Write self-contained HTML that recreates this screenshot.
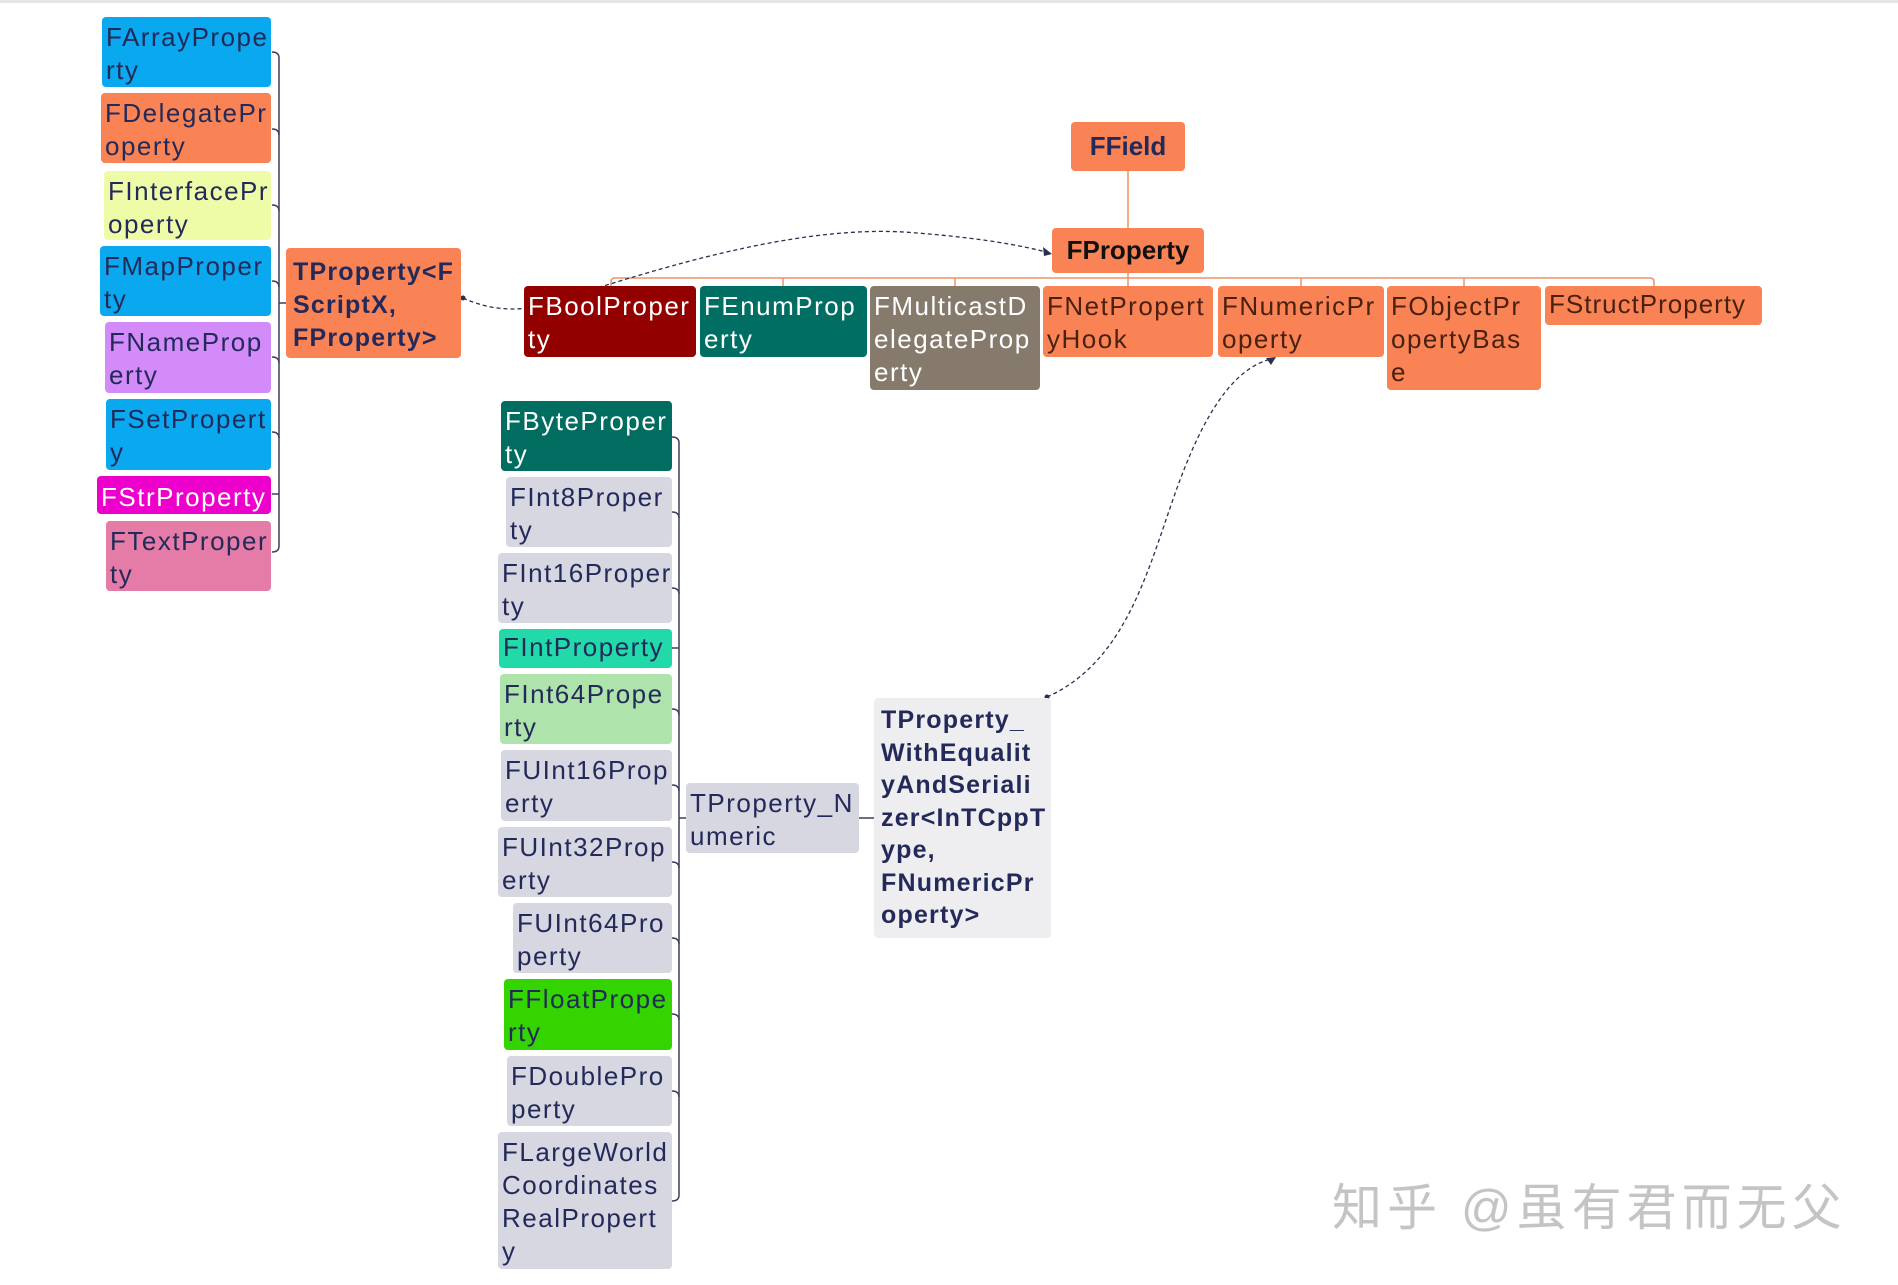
<!DOCTYPE html>
<html><head><meta charset="utf-8"><style>
*{margin:0;padding:0;box-sizing:border-box}
body{width:1898px;height:1285px;background:#fff;position:relative;overflow:hidden;font-family:"Liberation Sans",sans-serif}
.b{position:absolute;border-radius:4px;font-size:26px;letter-spacing:1.5px;color:#232a5a;padding:4px 0 0 4px;white-space:nowrap;line-height:33px}
.w{color:#fff}
.bd{font-weight:bold;letter-spacing:1.2px}
.g{background:#d6d7e1}
.o{background:#f98354}
.bl{background:#0aa8ef}
svg{position:absolute;left:0;top:0}
</style></head><body>
<div style="position:absolute;left:0;top:0;width:1898px;height:3px;background:#e6e6ea"></div>
<svg width="1898" height="1285">
<g fill="none" stroke="#3a3f5c" stroke-width="1.5">
<path d="M272 52 Q279 52 279 58 L279 546 Q279 552 272 552"/>
<path d="M272 129 Q279 129 279 135 M272 205 Q279 205 279 211 M272 281 Q279 281 279 287 M272 357 Q279 357 279 363 M272 432 Q279 432 279 438 M272 494 L279 494"/>
<path d="M279 303 L286 303"/>
<path d="M672 437 Q679 437 679 443 L679 1195 Q679 1201 672 1201"/>
<path d="M672 512 Q679 512 679 518 M672 588 Q679 588 679 594 M672 648 L679 648 M672 709 Q679 709 679 715 M672 785 Q679 785 679 791 M672 862 Q679 862 679 868 M672 938 Q679 938 679 944 M672 1014 Q679 1014 679 1020 M672 1091 Q679 1091 679 1097"/>
<path d="M679 818 L686 818 M859 818 L874 818"/>
</g>
<g fill="none" stroke="#f0906a" stroke-width="1.5">
<path d="M1128 171 L1128 228 M1128 273 L1128 286"/>
<path d="M611 286 L611 282 Q611 278 615 278 L1650 278 Q1654 278 1654 282 L1654 286"/>
<path d="M783 278 L783 286 M955 278 L955 286 M1301 278 L1301 286 M1464 278 L1464 286"/>
</g>
<g fill="none" stroke="#2a3050" stroke-width="1.3" stroke-dasharray="4 3">
<path d="M463 298 C490 310 510 310 530 308 C600 290 780 220 917 233 C980 238 1020 245 1050 253"/>
<path d="M1047 697 C1130 660 1150 560 1180 480 C1210 400 1240 365 1275 358"/>
</g>
<circle cx="463" cy="298" r="2.5" fill="#2a3050"/>
<circle cx="1047" cy="697" r="2.5" fill="#2a3050"/>
<path d="M1052 254 L1043 247 L1044 256 Z" fill="#2a3050"/>
<path d="M1276 357 L1266 358 L1271 365 Z" fill="#2a3050"/>
</svg>

<div class="b bl" style="left:102px;top:17px;width:169px;height:70px">FArrayPrope<br>rty</div>
<div class="b o" style="left:101px;top:93px;width:170px;height:70px">FDelegatePr<br>operty</div>
<div class="b" style="left:104px;top:171px;width:167px;height:69px;background:#eefca8">FInterfacePr<br>operty</div>
<div class="b bl" style="left:100px;top:246px;width:171px;height:70px">FMapProper<br>ty</div>
<div class="b" style="left:105px;top:322px;width:166px;height:71px;background:#d38bfa">FNameProp<br>erty</div>
<div class="b bl" style="left:106px;top:399px;width:165px;height:71px">FSetPropert<br>y</div>
<div class="b w" style="left:97px;top:476px;width:174px;height:38px;background:#ee00cc;line-height:34px">FStrProperty</div>
<div class="b" style="left:106px;top:521px;width:165px;height:70px;background:#e57ca8">FTextProper<br>ty</div>
<div class="b o bd" style="left:286px;top:248px;width:175px;height:110px;padding:8px 0 0 7px;line-height:33px;font-size:25px">TProperty&lt;F<br>ScriptX,<br>FProperty&gt;</div>

<div class="b o bd" style="left:1071px;top:122px;width:114px;height:49px;text-align:center;padding:9px 0 0;line-height:30px;font-size:26px;letter-spacing:0">FField</div>
<div class="b o bd" style="left:1052px;top:228px;width:152px;height:45px;text-align:center;padding:7px 0 0;line-height:30px;font-size:26px;letter-spacing:0;color:#111">FProperty</div>

<div class="b w" style="left:524px;top:286px;width:172px;height:71px;background:#930000">FBoolProper<br>ty</div>
<div class="b w" style="left:700px;top:286px;width:167px;height:71px;background:#006e62">FEnumProp<br>erty</div>
<div class="b w" style="left:870px;top:286px;width:170px;height:104px;background:#857a6c">FMulticastD<br>elegateProp<br>erty</div>
<div class="b o" style="left:1043px;top:286px;width:170px;height:71px;color:#4a2010">FNetPropert<br>yHook</div>
<div class="b o" style="left:1218px;top:286px;width:166px;height:71px;color:#4a2010">FNumericPr<br>operty</div>
<div class="b o" style="left:1387px;top:286px;width:154px;height:104px;color:#4a2010">FObjectPr<br>opertyBas<br>e</div>
<div class="b o" style="left:1545px;top:286px;width:217px;height:39px;color:#4a2010;padding-top:2px;letter-spacing:1px">FStructProperty</div>

<div class="b w" style="left:501px;top:401px;width:171px;height:70px;background:#006d60">FByteProper<br>ty</div>
<div class="b g" style="left:506px;top:477px;width:166px;height:70px">FInt8Proper<br>ty</div>
<div class="b g" style="left:498px;top:553px;width:174px;height:70px">FInt16Proper<br>ty</div>
<div class="b" style="left:499px;top:629px;width:173px;height:39px;background:#22d9a9;padding-top:2px">FIntProperty</div>
<div class="b" style="left:500px;top:674px;width:172px;height:70px;background:#aee3ab">FInt64Prope<br>rty</div>
<div class="b g" style="left:501px;top:750px;width:171px;height:71px">FUInt16Prop<br>erty</div>
<div class="b g" style="left:498px;top:827px;width:174px;height:70px">FUInt32Prop<br>erty</div>
<div class="b g" style="left:513px;top:903px;width:159px;height:70px">FUInt64Pro<br>perty</div>
<div class="b" style="left:504px;top:979px;width:168px;height:71px;background:#33d400">FFloatPrope<br>rty</div>
<div class="b g" style="left:507px;top:1056px;width:165px;height:70px">FDoublePro<br>perty</div>
<div class="b g" style="left:498px;top:1132px;width:174px;height:137px">FLargeWorld<br>Coordinates<br>RealPropert<br>y</div>

<div class="b g" style="left:686px;top:783px;width:173px;height:70px">TProperty_N<br>umeric</div>
<div class="b bd" style="left:874px;top:698px;width:177px;height:240px;background:#eeedf0;line-height:32.5px;padding:6px 0 0 7px;font-size:25px">TProperty_<br>WithEqualit<br>yAndSeriali<br>zer&lt;InTCppT<br>ype,<br>FNumericPr<br>operty&gt;</div>

<div style="position:absolute;left:1332px;top:1178px;font-family:'Liberation Sans','Noto Sans CJK SC',sans-serif;font-size:50px;line-height:60px;color:#c4c4c4;letter-spacing:5px;white-space:nowrap">知乎 @虽有君而无父</div>
</body></html>
